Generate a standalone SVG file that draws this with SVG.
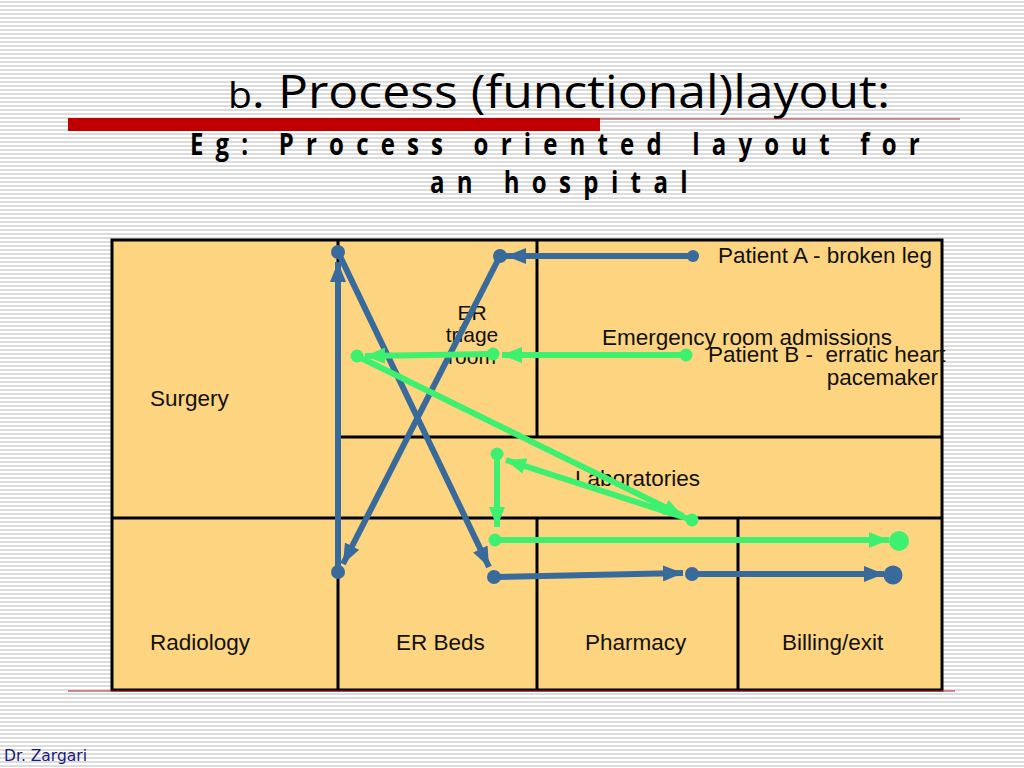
<svg xmlns="http://www.w3.org/2000/svg" width="1024" height="768" viewBox="0 0 1024 768">
<defs>
<pattern id="stripes" x="0" y="0" width="8" height="4" patternUnits="userSpaceOnUse">
<rect x="0" y="0" width="8" height="4" fill="#ffffff"/>
<rect x="0" y="1" width="8" height="2" fill="#dcdcdc"/>
</pattern>
<marker id="ab" viewBox="0 0 20 16" refX="20" refY="8" markerWidth="20" markerHeight="16" markerUnits="userSpaceOnUse" orient="auto">
<path d="M0,0 L20,8 L0,16 Z" fill="#386a9b"/>
</marker>
<marker id="ag" viewBox="0 0 20 16" refX="20" refY="8" markerWidth="20" markerHeight="16" markerUnits="userSpaceOnUse" orient="auto">
<path d="M0,0 L20,8 L0,16 Z" fill="#3ef070"/>
</marker>
</defs>
<style>
.lbl{font-family:"Liberation Sans",Arial,sans-serif;font-size:22.5px;fill:#111}
.tri{font-family:"Liberation Sans",Arial,sans-serif;font-size:21px;fill:#111}
.grid{stroke:#000;stroke-width:3;fill:none}
.b{stroke:#386a9b;stroke-width:6;fill:none;marker-end:url(#ab)}
.g{stroke:#3ef070;stroke-width:6;fill:none;marker-end:url(#ag)}
.bd{fill:#386a9b}
.gd{fill:#3ef070}
.sub{font-family:"Open Sans","Noto Sans",sans-serif;font-weight:bold;font-size:30px;fill:#000}
</style>
<rect x="0" y="0" width="1024" height="768" fill="url(#stripes)"/>

<g id="title">
<text x="228" y="108" font-family="'Open Sans','Noto Sans',sans-serif" font-size="46" fill="#000" textLength="662" lengthAdjust="spacingAndGlyphs"><tspan font-size="36">b</tspan>. Process (functional)layout:</text>
<rect x="68" y="118" width="532" height="13" fill="#c00000"/>
<line x1="600" y1="119" x2="960" y2="119" stroke="#a03030" stroke-width="1.2"/>
<text class="sub" transform="translate(190,155) scale(0.8,1)" x="0" y="0" textLength="912" lengthAdjust="spacing">Eg: Process oriented layout for</text>
<text class="sub" transform="translate(430,193) scale(0.8,1)" x="0" y="0" textLength="322" lengthAdjust="spacing">an hospital</text>
</g>

<g id="floorplan">
<rect x="112" y="240" width="830" height="450" fill="#fdd581"/>
</g>

<g id="surgery"><text class="lbl" x="150" y="406">Surgery</text></g>
<g id="radiology"><text class="lbl" x="150" y="650">Radiology</text></g>
<g id="er-beds"><text class="lbl" x="396" y="650">ER Beds</text></g>
<g id="pharmacy"><text class="lbl" x="585" y="650">Pharmacy</text></g>
<g id="billing"><text class="lbl" x="782" y="650">Billing/exit</text></g>
<g id="er-triage">
<text class="tri" x="472" y="320" text-anchor="middle">ER</text>
<text class="tri" x="472" y="342" text-anchor="middle">triage</text>
<text class="tri" x="472" y="364" text-anchor="middle">room</text>
</g>
<g id="admissions"><text class="lbl" x="602" y="345">Emergency room admissions</text></g>
<g id="laboratories"><text class="lbl" x="575" y="486">Laboratories</text></g>

<g id="walls">
<rect class="grid" x="112" y="240" width="830" height="450"/>
<line class="grid" x1="338" y1="240" x2="338" y2="690"/>
<line class="grid" x1="537" y1="240" x2="537" y2="437"/>
<line class="grid" x1="338" y1="437" x2="942" y2="437"/>
<line class="grid" x1="112" y1="518" x2="942" y2="518"/>
<line class="grid" x1="537" y1="518" x2="537" y2="690"/>
<line class="grid" x1="738" y1="518" x2="738" y2="690"/>
</g>

<g id="legend">
<text class="lbl" x="718" y="263">Patient A - broken leg</text>
<text class="lbl" x="708" y="362" xml:space="preserve">Patient B -  erratic heart</text>
<text class="lbl" x="938" y="385" text-anchor="end">pacemaker</text>
</g>

<g id="connectors">
<line class="b" x1="693" y1="256" x2="506" y2="256"/>
<line class="b" x1="500" y1="256" x2="343" y2="564"/>
<line class="b" x1="338" y1="572" x2="338" y2="262"/>
<line class="b" x1="338" y1="252" x2="489" y2="567"/>
<line class="b" x1="494" y1="577" x2="683" y2="573"/>
<line class="b" x1="692" y1="574" x2="884" y2="574"/>
<circle class="bd" cx="693" cy="256" r="6"/>
<circle class="bd" cx="500" cy="256" r="7"/>
<circle class="bd" cx="338" cy="572" r="7"/>
<circle class="bd" cx="338" cy="252" r="7"/>
<circle class="bd" cx="494" cy="577" r="7"/>
<circle class="bd" cx="692" cy="574" r="7"/>
<circle class="bd" cx="893" cy="575" r="9.5"/>

<line class="g" x1="686" y1="355" x2="502" y2="355"/>
<line class="g" x1="493" y1="354" x2="365" y2="356"/>
<line class="g" x1="357" y1="356" x2="683" y2="516"/>
<line class="g" x1="692" y1="520" x2="506" y2="460"/>
<line class="g" x1="497" y1="454" x2="497" y2="527"/>
<line class="g" x1="495" y1="540" x2="889" y2="540"/>
<circle class="gd" cx="686" cy="355" r="6.5"/>
<circle class="gd" cx="493" cy="354" r="6.5"/>
<circle class="gd" cx="357" cy="356" r="6.5"/>
<circle class="gd" cx="692" cy="520" r="6.5"/>
<circle class="gd" cx="497" cy="454" r="6.5"/>
<circle class="gd" cx="495" cy="540" r="6.5"/>
<circle class="gd" cx="899" cy="541" r="10"/>
</g>

<g id="footer">
<line x1="68" y1="691" x2="955" y2="691" stroke="#b02020" stroke-width="1.2"/>
<text x="4" y="761" font-family="'DejaVu Sans',Verdana,sans-serif" font-size="15.5" fill="#1a1a80">Dr. Zargari</text>
</g>
</svg>
